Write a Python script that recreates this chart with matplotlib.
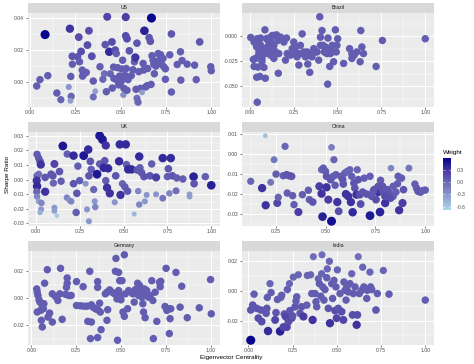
import matplotlib
matplotlib.use("Agg")
import matplotlib.pyplot as plt
import numpy as np
from matplotlib.colors import LinearSegmentedColormap, Normalize
from matplotlib.cm import ScalarMappable
from matplotlib.ticker import FuncFormatter

plt.rcParams['font.family'] = ['Liberation Sans', 'DejaVu Sans']

# points: (eigenvector centrality, sharpe ratio, weight)
us_pts = [
    (0.083, 0.0296, 0.55), (0.037, -0.0027, 0.05), (0.055, 0.0013, 0.05), (0.098, 0.0038, 0.05),
    (0.148, -0.0071, 0.05), (0.170, -0.0113, 0.0), (0.220, 0.0333, 0.3), (0.214, -0.0033, -0.3),
    (0.227, -0.0092, 0.0), (0.223, -0.0120, -0.35), (0.225, 0.0033, 0.05), (0.234, 0.0110, 0.05),
    (0.233, 0.0160, 0.1), (0.262, 0.0156, 0.1), (0.273, 0.0125, 0.05), (0.269, 0.0280, 0.15),
    (0.282, 0.0190, 0.15), (0.288, 0.0073, 0.05), (0.295, 0.0046, 0.05), (0.290, 0.0035, 0.05),
    (0.310, 0.0058, 0.05), (0.317, 0.0230, 0.15), (0.325, 0.0320, 0.15), (0.341, 0.0160, 0.15),
    (0.349, 0.0004, 0.05), (0.360, -0.0060, -0.35), (0.349, -0.0096, -0.05), (0.386, 0.0094, 0.05),
    (0.402, 0.0015, 0.0), (0.410, 0.0050, -0.05), (0.421, -0.0063, 0.05), (0.415, 0.0233, 0.1),
    (0.426, 0.0408, 0.2), (0.437, 0.0188, 0.35), (0.443, 0.0050, 0.0), (0.452, 0.0250, 0.15),
    (0.454, -0.0040, 0.05), (0.461, 0.0092, 0.05), (0.463, 0.0020, 0.05), (0.470, 0.0198, 0.15),
    (0.476, 0.0177, 0.05), (0.480, 0.0010, 0.05), (0.483, 0.0088, 0.05), (0.489, -0.0020, 0.05),
    (0.494, 0.0035, 0.05), (0.502, 0.0000, 0.05), (0.506, 0.0080, 0.05), (0.511, 0.0135, 0.05),
    (0.515, -0.0083, -0.25), (0.518, -0.0042, 0.05), (0.520, 0.0020, 0.05), (0.524, 0.0040, 0.05),
    (0.528, 0.0406, 0.25), (0.528, 0.0288, 0.15), (0.535, 0.0270, 0.15), (0.531, 0.0083, 0.05),
    (0.535, -0.0054, 0.05), (0.541, 0.0013, 0.05), (0.548, 0.0194, 0.1), (0.559, 0.0038, 0.05),
    (0.568, 0.0075, 0.05), (0.576, 0.0125, 0.05), (0.581, 0.0152, 0.3), (0.585, -0.0048, 0.05),
    (0.590, 0.0242, 0.1), (0.590, -0.0104, -0.05), (0.596, -0.0129, 0.0), (0.600, 0.0063, 0.05),
    (0.609, -0.0042, 0.05), (0.618, -0.0067, -0.35), (0.624, 0.0115, 0.05), (0.627, 0.0073, 0.05),
    (0.631, 0.0320, 0.4), (0.638, -0.0033, 0.05), (0.646, -0.0025, 0.05), (0.649, 0.0083, 0.05),
    (0.657, 0.0277, 0.1), (0.664, 0.0254, 0.1), (0.668, -0.0017, 0.05), (0.670, 0.0400, 0.55),
    (0.673, 0.0163, 0.05), (0.679, 0.0135, 0.05), (0.683, 0.0110, 0.05), (0.686, 0.0050, 0.05),
    (0.694, 0.0098, 0.05), (0.701, 0.0125, 0.05), (0.707, 0.0177, 0.05), (0.714, 0.0135, 0.05),
    (0.720, 0.0170, 0.05), (0.727, 0.0108, 0.05), (0.734, 0.0146, 0.05), (0.738, 0.0094, 0.05),
    (0.747, 0.0081, 0.05), (0.747, 0.0015, 0.05), (0.771, 0.0169, 0.05), (0.780, 0.0300, 0.1),
    (0.780, -0.0065, 0.05), (0.812, 0.0108, 0.05), (0.830, 0.0188, 0.05), (0.832, 0.0010, 0.05),
    (0.839, 0.0133, 0.05), (0.867, 0.0110, 0.05), (0.908, 0.0104, 0.05), (0.917, 0.0013, 0.05),
    (0.936, 0.0250, 0.1), (0.997, 0.0094, 0.05), (1.000, 0.0069, 0.05),
]

brazil_w = 0.05
brazil_pts = [
    (0.399, 0.0197), (0.087, 0.0066), (0.006, -0.0010), (0.043, -0.0023), (0.062, -0.0016),
    (0.025, -0.0056), (0.040, -0.0105), (0.053, -0.0155), (0.021, -0.0230), (0.034, -0.0220),
    (0.025, -0.0300), (0.047, -0.0306), (0.081, -0.0310), (0.040, -0.0408), (0.058, -0.0400),
    (0.089, -0.0418), (0.043, -0.0658), (0.070, -0.0220), (0.081, -0.0155), (0.100, -0.0105),
    (0.110, -0.0056), (0.119, -0.0007), (0.129, 0.0010), (0.142, 0.0010), (0.153, 0.0016),
    (0.161, -0.0040), (0.138, -0.0089), (0.119, -0.0155), (0.138, -0.0220), (0.166, -0.0171),
    (0.163, -0.0368), (0.210, -0.0016), (0.204, -0.0237), (0.251, -0.0056), (0.260, -0.0155),
    (0.270, -0.0204), (0.280, -0.0286), (0.289, -0.0089), (0.299, 0.0026), (0.308, -0.0155),
    (0.318, -0.0204), (0.331, -0.0276), (0.342, -0.0359), (0.355, -0.0171), (0.365, -0.0122),
    (0.384, -0.0155), (0.393, -0.0237), (0.403, -0.0007), (0.412, 0.0059), (0.418, -0.0089),
    (0.425, -0.0155), (0.440, -0.0171), (0.446, -0.0016), (0.444, -0.0477), (0.456, -0.0300),
    (0.463, -0.0122), (0.470, -0.0089), (0.478, -0.0253), (0.488, 0.0066), (0.493, -0.0155),
    (0.501, -0.0023), (0.535, -0.0270), (0.569, -0.0122), (0.582, -0.0171), (0.582, -0.0220),
    (0.595, -0.0187), (0.610, -0.0155), (0.629, -0.0253), (0.633, 0.0059), (0.639, -0.0105),
    (0.648, -0.0171), (0.720, -0.0300), (0.756, -0.0040), (1.000, -0.0023), (0.096, -0.0023),
    (0.110, -0.0122), (0.119, -0.0187), (0.176, -0.0007), (0.195, -0.0056), (0.214, -0.0171),
    (0.233, -0.0187), (0.242, -0.0122), (0.261, -0.0105), (0.280, -0.0171), (0.299, -0.0171),
    (0.327, -0.0155), (0.336, -0.0187), (0.355, -0.0204), (0.374, -0.0155), (0.403, -0.0089),
    (0.431, -0.0105), (0.459, -0.0171), (0.469, -0.0155), (0.497, -0.0089), (0.060, -0.0080),
    (0.075, -0.0120), (0.090, -0.0170), (0.050, -0.0190), (0.130, -0.0100), (0.145, -0.0150),
    (0.120, -0.0050), (0.100, -0.0020), (0.160, -0.0010), (0.070, -0.0250),
]

uk_pts = [
    (0.006, 0.0173, 0.05), (0.015, 0.0147, 0.05), (0.023, 0.0125, 0.1), (0.027, 0.0103, 0.3),
    (0.006, 0.0026, 0.0), (0.015, 0.0037, -0.05), (0.004, -0.0007, 0.3), (0.006, -0.0046, 0.35),
    (0.004, -0.0083, 0.0), (0.006, -0.0116, -0.2), (0.015, -0.0149, -0.35), (0.031, -0.0160, -0.2),
    (0.029, -0.0204, -0.3), (0.023, -0.0225, -0.45), (0.052, 0.0015, 0.1), (0.052, -0.0083, 0.3),
    (0.086, 0.0037, 0.1), (0.096, 0.0026, 0.1), (0.105, 0.0107, 0.2), (0.099, -0.0024, 0.0),
    (0.105, -0.0193, -0.3), (0.105, -0.0214, -0.35), (0.119, -0.0247, -0.6), (0.134, 0.0055, 0.1),
    (0.143, -0.0011, 0.05), (0.153, 0.0230, 0.45), (0.178, 0.0175, 0.05), (0.176, -0.0123, -0.2),
    (0.191, -0.0142, -0.3), (0.201, -0.0149, -0.2), (0.214, 0.0164, 0.35), (0.214, -0.0028, 0.1),
    (0.229, -0.0225, 0.05), (0.233, -0.0094, 0.1), (0.239, 0.0092, 0.05), (0.249, -0.0007, 0.05),
    (0.272, 0.0164, 0.45), (0.283, -0.0028, -0.3), (0.291, -0.0204, -0.3), (0.298, 0.0206, 0.35),
    (0.302, -0.0285, -0.3), (0.310, 0.0125, 0.1), (0.302, 0.0026, 0.1), (0.315, 0.0070, 0.05),
    (0.329, -0.0068, 0.0), (0.335, -0.0149, -0.3), (0.338, -0.0188, -0.2), (0.348, 0.0037, 0.45),
    (0.363, 0.0107, 0.05), (0.363, 0.0300, 0.45), (0.379, 0.0274, 0.45), (0.398, 0.0234, 0.3),
    (0.392, 0.0129, 0.1), (0.386, 0.0081, 0.35), (0.398, -0.0007, 0.05), (0.405, -0.0055, 0.3),
    (0.411, 0.0077, 0.35), (0.421, -0.0094, 0.3), (0.449, -0.0155, -0.3), (0.455, 0.0026, 0.1),
    (0.478, 0.0241, 0.35), (0.474, 0.0125, 0.35), (0.482, -0.0105, 0.3), (0.493, -0.0028, 0.0),
    (0.507, -0.0050, 0.05), (0.512, 0.0241, 0.35), (0.516, 0.0103, 0.05), (0.526, 0.0070, 0.35),
    (0.522, -0.0079, 0.1), (0.545, 0.0070, 0.35), (0.560, -0.0236, -0.5), (0.577, 0.0066, 0.1),
    (0.583, -0.0079, -0.2), (0.589, -0.0171, -0.2), (0.589, 0.0158, 0.35), (0.593, 0.0081, 0.05),
    (0.602, 0.0048, 0.1), (0.616, 0.0020, 0.1), (0.621, -0.0149, -0.3), (0.631, -0.0105, -0.3),
    (0.650, 0.0026, 0.1), (0.660, 0.0107, 0.05), (0.685, 0.0015, 0.25), (0.685, -0.0101, -0.3),
    (0.723, 0.0147, 0.35), (0.723, -0.0127, -0.1), (0.755, 0.0074, 0.1), (0.750, 0.0020, 0.05),
    (0.761, -0.0094, -0.2), (0.769, 0.0147, 0.35), (0.778, 0.0026, 0.1), (0.799, -0.0077, -0.05),
    (0.803, 0.0011, 0.05), (0.838, 0.0004, 0.05), (0.876, -0.0101, -0.35), (0.876, -0.0116, -0.35),
    (0.899, 0.0020, 0.4), (0.902, -0.0028, 0.1), (0.966, 0.0020, 0.05), (1.000, -0.0039, 0.4),
]

china_pts = [
    (0.198, 0.0090, -0.55), (0.125, -0.0138, 0.0), (0.182, -0.0172, 0.3), (0.200, -0.0258, 0.3),
    (0.225, -0.0143, -0.1), (0.242, -0.0030, -0.1), (0.252, -0.0102, 0.05), (0.258, -0.0247, 0.2),
    (0.263, -0.0218, 0.0), (0.297, 0.0037, 0.0), (0.288, -0.0110, 0.05), (0.305, -0.0105, 0.1),
    (0.318, -0.0110, 0.1), (0.330, -0.0113, 0.1), (0.308, -0.0197, 0.05), (0.335, -0.0210, 0.05),
    (0.342, -0.0255, 0.05), (0.364, -0.0292, 0.25), (0.384, -0.0205, 0.05), (0.414, -0.0183, 0.05),
    (0.419, -0.0230, 0.05), (0.436, -0.0242, 0.1), (0.469, -0.0163, 0.25), (0.480, -0.0080, 0.0),
    (0.480, -0.0200, 0.3), (0.505, -0.0168, 0.3), (0.485, -0.0315, 0.4), (0.500, -0.0088, 0.05),
    (0.514, -0.0230, 0.25), (0.530, 0.0032, -0.15), (0.542, -0.0030, 0.0), (0.530, -0.0338, 0.5),
    (0.548, -0.0158, 0.05), (0.552, -0.0105, 0.05), (0.559, -0.0242, 0.3), (0.566, -0.0288, 0.15),
    (0.576, -0.0113, 0.05), (0.586, -0.0130, 0.1), (0.589, -0.0152, 0.1), (0.597, -0.0097, 0.05),
    (0.602, -0.0202, 0.3), (0.609, -0.0088, 0.0), (0.614, -0.0213, 0.3), (0.622, -0.0080, 0.0),
    (0.627, -0.0242, 0.3), (0.636, -0.0293, 0.35), (0.647, -0.0172, 0.1), (0.655, -0.0205, 0.3),
    (0.659, -0.0080, 0.0), (0.664, -0.0130, 0.1), (0.676, -0.0252, 0.15), (0.694, -0.0122, 0.05),
    (0.706, -0.0202, 0.1), (0.723, -0.0113, 0.05), (0.723, -0.0310, 0.45), (0.731, -0.0213, 0.1),
    (0.744, -0.0180, 0.15), (0.753, -0.0230, 0.15), (0.764, -0.0192, 0.3), (0.773, -0.0292, 0.4),
    (0.776, -0.0133, 0.05), (0.789, -0.0188, 0.1), (0.799, -0.0247, 0.3), (0.811, -0.0180, 0.1),
    (0.821, -0.0197, 0.1), (0.828, -0.0072, -0.2), (0.839, -0.0213, 0.05), (0.853, -0.0192, 0.05),
    (0.861, -0.0150, 0.05), (0.869, -0.0283, 0.3), (0.881, -0.0122, 0.05), (0.886, -0.0247, 0.25),
    (0.891, -0.0180, 0.1), (0.918, -0.0072, -0.1), (0.948, -0.0152, 0.05), (0.956, -0.0172, 0.05),
    (0.964, -0.0188, 0.1), (0.976, -0.0192, 0.1), (0.986, -0.0185, 0.05), (1.000, -0.0182, 0.05),
    (0.489, -0.0072, 0.05), (0.505, -0.0113, 0.1), (0.525, -0.0130, 0.1), (0.539, -0.0113, 0.05),
    (0.631, -0.0113, 0.05), (0.642, -0.0147, 0.1), (0.672, -0.0205, 0.15), (0.686, -0.0192, 0.1),
    (0.739, -0.0188, 0.1), (0.764, -0.0163, 0.1), (0.786, -0.0163, 0.1), (0.798, -0.0213, 0.15),
    (0.826, -0.0222, 0.15), (0.839, -0.0163, 0.05), (0.864, -0.0113, 0.05),
]

germany_w = 0.05
germany_pts = [
    (0.030, 0.0068), (0.033, 0.0044), (0.037, 0.0020), (0.043, -0.0012), (0.048, -0.0029),
    (0.033, -0.0102), (0.052, -0.0090), (0.061, -0.0054), (0.070, -0.0041), (0.067, -0.0078),
    (0.056, -0.0163), (0.061, -0.0212), (0.074, 0.0110), (0.089, 0.0210), (0.093, -0.0139),
    (0.102, -0.0110), (0.117, -0.0176), (0.117, 0.0032), (0.135, 0.0012), (0.148, -0.0017),
    (0.159, 0.0032), (0.163, 0.0220), (0.172, -0.0156), (0.191, 0.0027), (0.196, 0.0080),
    (0.200, 0.0149), (0.200, 0.0110), (0.209, 0.0020), (0.222, 0.0020), (0.252, 0.0122),
    (0.252, -0.0054), (0.274, -0.0056), (0.289, 0.0085), (0.293, -0.0059), (0.311, -0.0059),
    (0.326, 0.0198), (0.315, -0.0171), (0.335, -0.0176), (0.330, -0.0298), (0.335, -0.0049),
    (0.344, -0.0066), (0.357, -0.0078), (0.370, 0.0122), (0.370, 0.0080), (0.370, -0.0085),
    (0.370, -0.0290), (0.381, -0.0037), (0.385, -0.0102), (0.389, -0.0232), (0.413, 0.0032),
    (0.422, 0.0044), (0.422, -0.0163), (0.426, -0.0085), (0.437, 0.0061), (0.450, 0.0044),
    (0.465, 0.0032), (0.472, 0.0293), (0.469, 0.0198), (0.478, -0.0005), (0.487, 0.0190),
    (0.493, 0.0129), (0.487, 0.0056), (0.481, -0.0310), (0.496, 0.0020), (0.500, -0.0012),
    (0.506, 0.0129), (0.511, -0.0102), (0.519, 0.0320), (0.519, -0.0134), (0.524, 0.0032),
    (0.537, -0.0078), (0.543, 0.0056), (0.556, 0.0044), (0.567, 0.0032), (0.574, -0.0029),
    (0.580, 0.0063), (0.593, 0.0110), (0.598, 0.0020), (0.604, 0.0093), (0.611, 0.0044),
    (0.617, 0.0007), (0.622, -0.0041), (0.626, -0.0102), (0.631, 0.0068), (0.635, -0.0144),
    (0.641, 0.0032), (0.644, 0.0056), (0.654, 0.0007), (0.663, 0.0020), (0.672, 0.0129),
    (0.678, -0.0017), (0.681, -0.0298), (0.691, 0.0044), (0.700, -0.0171), (0.715, 0.0117),
    (0.719, 0.0085), (0.722, 0.0124), (0.752, 0.0220), (0.746, -0.0061), (0.756, -0.0090),
    (0.765, -0.0078), (0.770, -0.0261), (0.774, -0.0151), (0.778, -0.0078), (0.807, 0.0190),
    (0.830, -0.0066), (0.839, 0.0088), (0.870, -0.0144), (0.937, -0.0071), (1.000, 0.0137),
    (1.004, -0.0115),
]

india_pts = [
    (0.013, -0.0333, 0.55), (0.013, -0.0129, 0.1), (0.024, -0.0096, 0.1), (0.032, -0.0022, 0.05),
    (0.047, -0.0118, 0.1), (0.056, -0.0184, 0.15), (0.070, -0.0129, 0.1), (0.075, -0.0207, 0.15),
    (0.100, -0.0151, 0.1), (0.104, -0.0118, 0.1), (0.111, -0.0271, 0.35), (0.107, -0.0044, 0.05),
    (0.122, 0.0049, 0.0), (0.128, -0.0011, 0.05), (0.151, -0.0196, 0.2), (0.156, -0.0147, 0.1),
    (0.164, -0.0058, 0.05), (0.179, -0.0273, 0.4), (0.183, -0.0044, 0.05), (0.188, -0.0029, 0.05),
    (0.198, -0.0244, 0.2), (0.203, -0.0156, 0.1), (0.211, -0.0173, 0.2), (0.217, -0.0244, 0.2),
    (0.220, 0.0009, 0.05), (0.226, -0.0207, 0.15), (0.232, 0.0049, 0.0), (0.235, -0.0133, 0.1),
    (0.245, -0.0184, 0.15), (0.250, -0.0169, 0.1), (0.254, 0.0093, 0.0), (0.264, -0.0107, 0.1),
    (0.269, -0.0069, 0.05), (0.273, -0.0040, 0.05), (0.282, 0.0109, 0.0), (0.292, -0.0151, 0.1),
    (0.301, -0.0107, 0.1), (0.311, -0.0173, 0.25), (0.330, -0.0096, 0.05), (0.333, 0.0104, 0.0),
    (0.352, 0.0109, 0.0), (0.358, -0.0018, 0.05), (0.363, -0.0196, 0.3), (0.367, 0.0231, -0.05),
    (0.377, -0.0018, 0.05), (0.382, -0.0073, 0.05), (0.386, -0.0107, 0.05), (0.395, 0.0082, 0.0),
    (0.401, 0.0049, 0.05), (0.409, -0.0036, 0.05), (0.414, 0.0116, 0.0), (0.416, 0.0244, -0.05),
    (0.420, 0.0027, 0.05), (0.427, -0.0062, 0.05), (0.433, 0.0009, 0.05), (0.443, 0.0089, 0.05),
    (0.446, 0.0149, 0.0), (0.452, -0.0118, 0.1), (0.458, 0.0200, 0.0), (0.461, -0.0218, 0.3),
    (0.471, 0.0049, 0.05), (0.476, -0.0051, 0.05), (0.484, 0.0071, 0.05), (0.490, -0.0133, 0.15),
    (0.495, 0.0027, 0.05), (0.499, -0.0184, 0.2), (0.503, 0.0142, 0.0), (0.508, -0.0118, 0.1),
    (0.518, -0.0018, 0.05), (0.527, -0.0140, 0.15), (0.537, -0.0196, 0.2), (0.540, 0.0060, 0.05),
    (0.546, 0.0004, 0.05), (0.552, -0.0062, 0.05), (0.556, 0.0027, 0.05), (0.565, -0.0007, 0.05),
    (0.574, 0.0049, 0.05), (0.584, 0.0116, 0.0), (0.589, -0.0162, 0.15), (0.593, -0.0018, 0.05),
    (0.603, 0.0027, 0.05), (0.612, -0.0229, 0.3), (0.616, -0.0162, 0.15), (0.621, 0.0231, -0.05),
    (0.627, -0.0018, 0.05), (0.640, 0.0004, 0.05), (0.646, 0.0160, 0.0), (0.653, 0.0027, 0.05),
    (0.669, -0.0051, 0.05), (0.672, 0.0004, 0.05), (0.687, 0.0127, 0.0), (0.691, 0.0027, 0.05),
    (0.697, 0.0009, 0.05), (0.721, -0.0129, 0.1), (0.729, -0.0018, 0.05), (0.763, 0.0138, 0.0),
    (0.795, -0.0022, 0.05), (1.000, -0.0062, 0.05),
]

panel_names = ['US', 'Brazil', 'UK', 'China', 'Germany', 'India']
y_breaks = {
    'US': [0.0, 0.02, 0.04],
    'Brazil': [-0.05, -0.025, 0.0],
    'UK': [-0.03, -0.02, -0.01, 0.0, 0.01, 0.02, 0.03],
    'China': [-0.03, -0.02, -0.01, 0.0, 0.01],
    'Germany': [-0.02, 0.0, 0.02],
    'India': [-0.02, 0.0, 0.02],
}
y_digits = {'US': 2, 'Brazil': 3, 'UK': 2, 'China': 2, 'Germany': 2, 'India': 2}
x_breaks = [0.0, 0.25, 0.5, 0.75, 1.0]
weight_ticks = [-0.6, -0.3, 0.0, 0.3]
w_min, w_max = -0.68, 0.58


def unpack(name):
    if name == 'US':
        pts = us_pts
    elif name == 'UK':
        pts = uk_pts
    elif name == 'China':
        pts = china_pts
    elif name == 'India':
        pts = india_pts
    elif name == 'Brazil':
        pts = [(a, b, brazil_w) for a, b in brazil_pts]
    else:
        pts = [(a, b, germany_w) for a, b in germany_pts]
    arr = np.array(pts)
    return arr[:, 0], arr[:, 1], arr[:, 2]


# lightblue -> darkblue, interpolated in Lab like ggplot
cmap = LinearSegmentedColormap.from_list(
    'wt', [(0.0, '#ADD8E6'), (0.25, '#90A1D0'), (0.5, '#6F6DB9'), (0.75, '#493AA2'), (1.0, '#00008B')])
norm = Normalize(w_min, w_max)

W, H = 474, 364
fig = plt.figure(figsize=(W / 100, H / 100), dpi=100)


def box(x0, y0, w, h):
    return [x0 / W, 1 - (y0 + h) / H, w / W, h / H]


col_x = [28, 242]
panel_w = 192
row_top = [3, 122, 241]
strip_h = 9.5
panel_h = 94

for i, name in enumerate(panel_names):
    r, c = i // 2, i % 2
    sax = fig.add_axes(box(col_x[c], row_top[r], panel_w, strip_h))
    sax.set_facecolor('#D9D9D9')
    sax.set_xticks([])
    sax.set_yticks([])
    for sp in sax.spines.values():
        sp.set_visible(False)
    sax.text(0.5, 0.5, name, ha='center', va='center', fontsize=3.7, color='#1A1A1A',
             transform=sax.transAxes)

    ax = fig.add_axes(box(col_x[c], row_top[r] + strip_h, panel_w, panel_h))
    ax.set_facecolor('#EBEBEB')
    for sp in ax.spines.values():
        sp.set_visible(False)

    x, y, w = unpack(name)
    # size ~ weight (area scale)
    d_px = np.sqrt(4.0 ** 2 + (w - w_min) / (w_max - w_min) * (9.2 ** 2 - 4.0 ** 2))
    ax.scatter(x, y, s=(d_px * 0.72) ** 2, c=w, cmap=cmap, norm=norm, linewidths=0, zorder=3)

    xr = x.max() - x.min()
    yr = y.max() - y.min()

    yb = y_breaks[name]
    ystep = yb[1] - yb[0]
    ax.set_xticks(x_breaks)
    ax.set_xticks([-0.125] + [v + 0.125 for v in x_breaks], minor=True)
    ax.set_yticks(yb)
    ax.set_yticks([yb[0] - ystep / 2] + [v + ystep / 2 for v in yb], minor=True)
    ax.set_xlim(x.min() - 0.05 * xr, x.max() + 0.05 * xr)
    ax.set_ylim(y.min() - 0.05 * yr, y.max() + 0.05 * yr)
    d = y_digits[name]
    ax.yaxis.set_major_formatter(FuncFormatter(lambda v, p, d=d: f"{v:.{d}f}"))
    ax.xaxis.set_major_formatter(FuncFormatter(lambda v, p: f"{v:.2f}"))
    ax.grid(True, which='major', color='white', lw=0.75, zorder=0)
    ax.grid(True, which='minor', color='white', lw=0.35, zorder=0)
    ax.set_axisbelow(True)
    ax.tick_params(which='major', length=1.6, width=0.45, color='#333333', pad=1.2,
                   labelsize=3.7, labelcolor='#4D4D4D')
    ax.tick_params(which='minor', length=0)

fig.text(8 / W, 1 - 174 / H, 'Sharpe Ratio', rotation=90, ha='center', va='center', fontsize=4.6)
fig.text(231 / W, 1 - 358 / H, 'Eigenvector Centrality', ha='center', va='center', fontsize=4.6)

# colourbar legend
cax = fig.add_axes(box(443, 158, 8, 52))
cb = fig.colorbar(ScalarMappable(norm=norm, cmap=cmap), cax=cax, ticks=weight_ticks)
cb.outline.set_visible(False)
cb.ax.set_yticklabels(['-0.6', '-0.3', '0.0', '0.3'])
cb.ax.tick_params(length=0, pad=4, labelsize=3.7, labelcolor='#4D4D4D')
cb.ax.hlines(weight_ticks, 0, 0.2, color='white', lw=0.4)
cb.ax.hlines(weight_ticks, 0.8, 1.0, color='white', lw=0.4)
fig.text(443 / W, 1 - 152 / H, 'Weight', ha='left', va='center', fontsize=4.6)

fig.savefig('out.png', dpi=100)
